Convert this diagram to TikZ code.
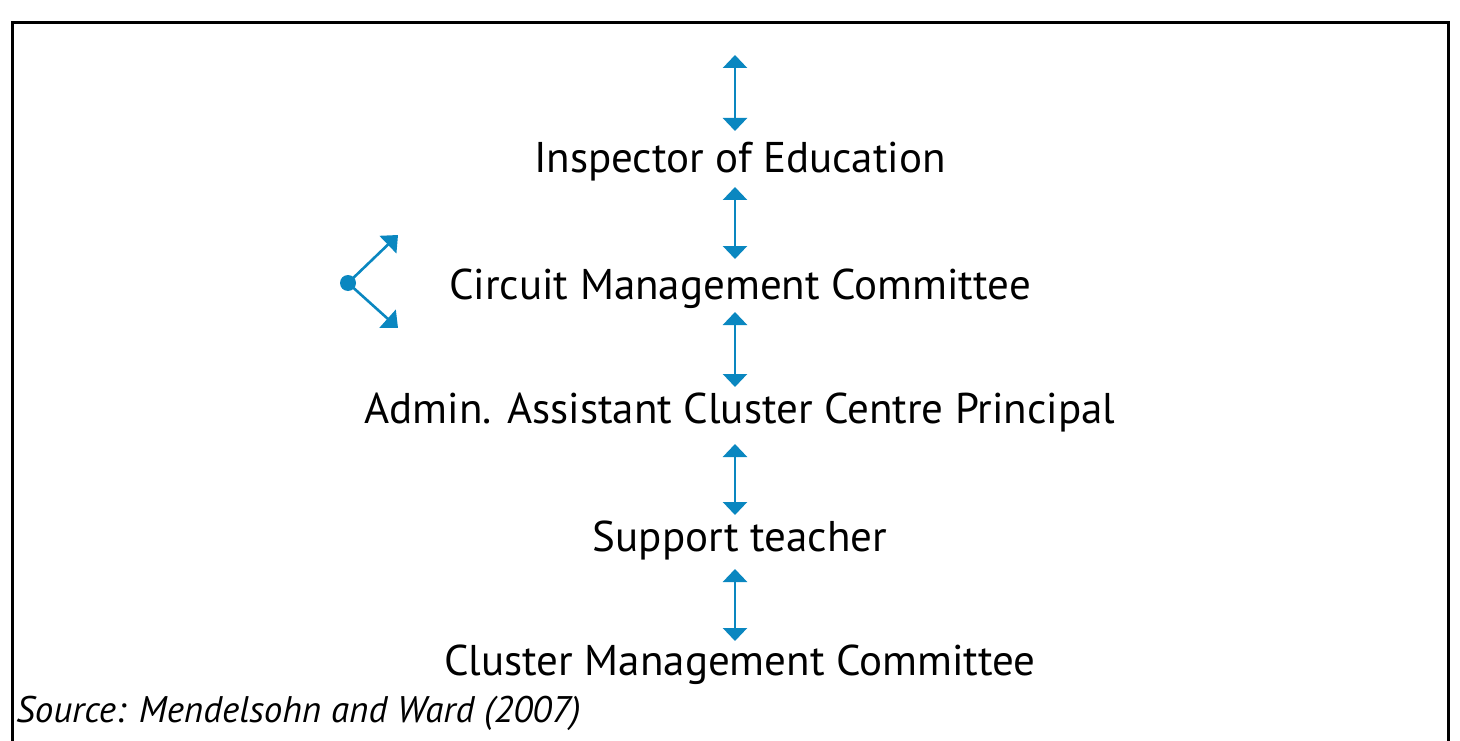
\documentclass[tikz,border=0pt]{standalone}
\usepackage{fontspec}
\setmainfont{PT Sans}
\usetikzlibrary{arrows.meta}
\definecolor{ablue}{HTML}{0A87C0}
\begin{document}
\begin{tikzpicture}[x=1pt,y=-1pt,
  conn/.style={ablue,line width=2.6pt,{Triangle[width=24pt,length=13pt]}-{Triangle[width=24pt,length=13pt]}},
  lbl/.style={font=\fontsize{43}{48}\selectfont,inner sep=0pt}]
\useasboundingbox (0,0) rectangle (1460,741);
\draw[line width=3pt] (12,760) -- (12,23) -- (1448,23) -- (1448,760);
\node[lbl] (ie) at (740,162) {Inspector of Education};
\node[lbl] (cmc) at (740,289) {Circuit Management Committee};
\node[lbl] (aa) at (740,412) {Admin. Assistant Cluster Centre Principal};
\node[lbl] (st) at (740,540) {Support teacher};
\node[lbl] (clm) at (740,665) {Cluster Management Committee};
\node[font=\fontsize{37}{40}\selectfont\itshape,anchor=west,inner sep=0pt] (src) at (16,713) {Source: Mendelsohn and Ward (2007)};
\coordinate (a0) at (735,55); \coordinate (b0) at (735,131);
\coordinate (a1) at (735,187); \coordinate (b1) at (735,259);
\coordinate (a2) at (735,312); \coordinate (b2) at (735,387);
\coordinate (a3) at (735,444); \coordinate (b3) at (735,515);
\coordinate (a4) at (735,569); \coordinate (b4) at (735,641);
\foreach \i in {0,...,4} \draw[conn] (a\i) -- (b\i);
\coordinate (dot) at (348,283);
\coordinate (up) at (398,235);
\coordinate (dn) at (398,328);
\fill[ablue] (dot) circle (8pt);
\draw[ablue,line width=2.6pt,-{Triangle[width=24pt,length=14pt]}] (dot) -- (up);
\draw[ablue,line width=2.6pt,-{Triangle[width=24pt,length=14pt]}] (dot) -- (dn);
\end{tikzpicture}
\end{document}
